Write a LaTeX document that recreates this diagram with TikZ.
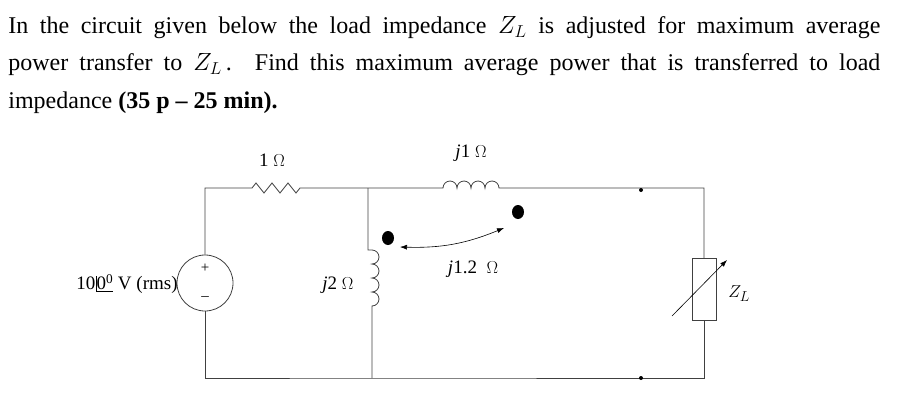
\documentclass[tikz,border=0pt]{standalone}
\usepackage{fontspec}
\setmainfont{Liberation Serif}
\usetikzlibrary{arrows.meta}
\begin{document}
\begin{tikzpicture}[x=1pt,y=-1pt,line width=0.8pt,
  wire/.style={draw=black!75},
  lbl/.style={font=\fontsize{19}{21}\selectfont,inner sep=0pt}]
\useasboundingbox (0,0) rectangle (900,416);
\node[anchor=north west,inner sep=0pt,text width=872pt,align=justify,font=\fontsize{24}{37.5}\selectfont] (q) at (8,16)
{In the circuit given below the load impedance $Z_L$ is adjusted for maximum average\linebreak power transfer to $Z_L$\,. Find this maximum average power that is transferred to load\linebreak impedance \textbf{(35 p -- 25 min).}};
% source
\node[draw=black!75,circle,minimum size=56pt,inner sep=0pt] (src) at (205,283) {};
\node[font=\fontsize{15}{15}\selectfont] at (205,268) {+};
\node[font=\fontsize{15}{15}\selectfont] at (205,299) {--};
\node[lbl,anchor=east] (vs) at (178,284) {10\kern0.5pt\vrule height 14pt depth 2pt width 0.6pt\underline{0\textsuperscript{0}}\ V (rms)};
% wires
\coordinate (tl) at (205,188); \coordinate (bl) at (205,378);
\coordinate (j1) at (368,188); \coordinate (j2) at (372,378);
\coordinate (tr) at (704,188); \coordinate (br) at (704,378);
\draw[wire] (src.north) -- (tl) -- (252,188) -- ++(4,-5) -- ++(8,10) -- ++(8,-10) -- ++(8,10) -- ++(8,-10) -- ++(8,10) -- ++(4,-5) -- (j1) -- (443,188)
  arc[start angle=180,end angle=360,radius=7] arc[start angle=180,end angle=360,radius=7] arc[start angle=180,end angle=360,radius=7] arc[start angle=180,end angle=360,radius=7]
  -- (tr) -- (704,258);
\draw[wire] (src.south) -- (bl) -- (j2) -- (br) -- (704,320);
\draw[wire] (j1) -- (368,250) -- (372,250)
  arc[start angle=270,end angle=450,radius=7] arc[start angle=270,end angle=450,radius=7] arc[start angle=270,end angle=450,radius=7] arc[start angle=270,end angle=450,radius=7]
  -- (j2);
% load
\node[draw=black!75,minimum width=24pt,minimum height=62pt,inner sep=0pt] (zl) at (704,289) {};
\draw[-{Latex[length=7pt,width=5pt]},line width=0.6pt] (672,316) -- (727,260);
\node[lbl,anchor=west] at (728,294) {$Z_L$};
% dots
\fill (641,190) circle (2pt); \fill (641,378) circle (2pt);
\fill (388,238) ellipse (6pt and 7pt);
\fill (518,212) ellipse (6pt and 7pt);
\draw[{Latex[length=7pt,width=5pt]}-{Latex[length=7pt,width=5pt]},line width=0.6pt] (400,247) to[bend right=12] (504,228);
% labels
\node[lbl] at (272,160) {1 $\Omega$};
\node[lbl] at (471,153) {\textit{j}1 $\Omega$};
\node[lbl] at (338,285) {\textit{j}2 $\Omega$};
\node[lbl] at (473,269) {\textit{j}1.2\ \ $\Omega$};
\end{tikzpicture}
\end{document}
